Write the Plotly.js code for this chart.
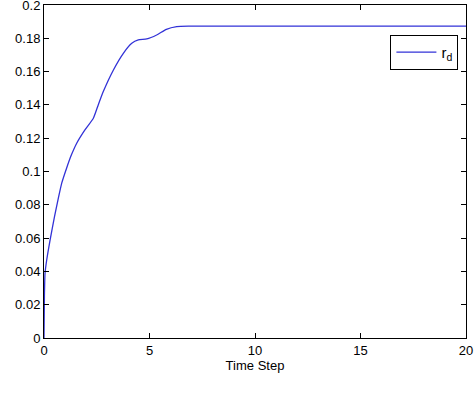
<!DOCTYPE html>
<html>
<head>
<meta charset="utf-8">
<script src="https://cdn.plot.ly/plotly-3.0.1.min.js"></script>
<style>
  html, body { margin: 0; padding: 0; background: #fff; }
  #chart { width: 474px; height: 402px; }
</style>
</head>
<body>
<div id="chart"></div>
<script>
// values
const timeStep = [0, 0.02, 0.05, 0.13, 0.29, 0.5, 0.68, 0.84, 1.07, 1.3, 1.55, 1.94, 2.34, 2.57, 2.81,
  3.29, 3.76, 4.16, 4.47, 4.87, 5.34, 5.8, 6.29, 6.84, 8, 10, 15, 20];
const rd = [0, 0.025, 0.039, 0.047, 0.059, 0.073, 0.084, 0.093, 0.102, 0.110, 0.117, 0.125, 0.132, 0.140, 0.148,
  0.161, 0.171, 0.177, 0.179, 0.1796, 0.182, 0.1854, 0.187, 0.1873, 0.1873, 0.1873, 0.1873, 0.1873];

const xTicks = [0, 5, 10, 15, 20];
const yTicks = [0, 0.02, 0.04, 0.06, 0.08, 0.1, 0.12, 0.14, 0.16, 0.18, 0.2];

var trace = {
  x: timeStep,
  y: rd,
  name: 'r<sub>d</sub>',
  type: 'scatter',
  mode: 'lines',
  line: {color: 'rgb(50,50,215)', width: 1.3, shape: 'spline', smoothing: 0.5}
};

var axisStyle = {
  showgrid: false,
  zeroline: false,
  showline: true,
  linecolor: '#000',
  linewidth: 1,
  mirror: 'ticks',
  ticks: 'inside',
  ticklen: 5,
  tickcolor: '#000',
  ticklabeloverflow: 'allow',
  tickfont: {family: 'Liberation Sans, Arial, sans-serif', size: 13, color: '#000'}
};

var layout = {
  width: 474,
  height: 402,
  margin: {l: 44, r: 8, t: 5, b: 64},
  paper_bgcolor: '#fff',
  plot_bgcolor: '#fff',
  font: {family: 'Liberation Sans, Arial, sans-serif', size: 13, color: '#000'},
  xaxis: Object.assign({}, axisStyle, {
    range: [0, 20],
    tickvals: xTicks,
    ticktext: xTicks.map(String),
    title: {text: 'Time Step', standoff: 2, font: {size: 13}}
  }),
  yaxis: Object.assign({}, axisStyle, {
    range: [0, 0.2],
    tickvals: yTicks,
    ticktext: yTicks.map(String)
  }),
  showlegend: true,
  legend: {
    x: 0.982, y: 0.91, xanchor: 'right', yanchor: 'top',
    bordercolor: '#000', borderwidth: 1, bgcolor: '#fff',
    itemwidth: 40,
    font: {size: 15}
  }
};

Plotly.newPlot('chart', [trace], layout, {displayModeBar: false, staticPlot: true});
</script>
</body>
</html>
